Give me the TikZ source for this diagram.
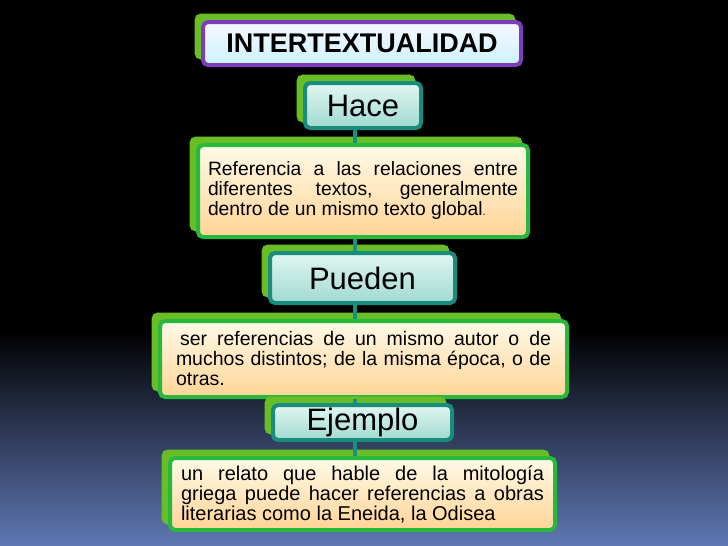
\documentclass[tikz,border=0pt]{standalone}
\usepackage{fontspec}
\setmainfont{Liberation Sans}
\usetikzlibrary{shadows}
\hbadness=10000
\definecolor{tabgreen}{RGB}{105,190,40}
\definecolor{boxgreen}{RGB}{40,185,60}
\definecolor{headteal}{RGB}{25,140,125}
\definecolor{headtop}{RGB}{225,246,242}
\definecolor{headbottom}{RGB}{160,218,208}
\definecolor{texttop}{RGB}{255,250,232}
\definecolor{textbottom}{RGB}{255,212,150}
\definecolor{titlepurple}{RGB}{125,60,185}
\definecolor{spine}{RGB}{25,145,130}
\definecolor{bgblue}{RGB}{95,120,180}
\tikzset{
  tabbed/.style={rounded corners=5pt,line width=4pt,
    general shadow={shadow xshift=-7pt,shadow yshift=7pt,fill=tabgreen,draw=tabgreen,line width=3pt}},
  titlebox/.style={tabbed,draw=titlepurple,top color=white!85!blue!20,bottom color=blue!25!cyan!20,
    minimum width=318,minimum height=43,inner sep=0pt,font=\fontsize{27}{27}\selectfont\bfseries},
  headbox/.style={tabbed,draw=headteal,top color=headtop,bottom color=headbottom,
    minimum width=#1,inner sep=0pt,font=\fontsize{31}{31}\selectfont},
  textbox/.style={tabbed,draw=boxgreen,top color=texttop,bottom color=textbottom,
    minimum width=#1,inner sep=0pt,align=justify},
  link/.style={spine,line width=3.5pt}
}
\begin{document}
\begin{tikzpicture}[x=1pt,y=-1pt]
  \fill[black] (0,0) rectangle (728,546);
  \shade[top color=black,bottom color=bgblue] (0,330) rectangle (728,546);
  \coordinate (axis) at (355,0);
  \node[titlebox] (titulo) at (362,43.5) {INTERTEXTUALIDAD};
  \node[headbox=116,minimum height=45] (hace) at (363,105.5) {Hace};
  \node[textbox=330,minimum height=92,text width=310,font=\fontsize{19.3}{20}\selectfont] (def) at (363,191)
    {Referencia a las relaciones entre\linebreak diferentes textos, generalmente\linebreak dentro de un mismo texto global{\fontsize{11}{11}\selectfont.}};
  \node[headbox=185,minimum height=50] (pueden) at (362.5,278) {Pueden};
  \node[textbox=407,minimum height=76,text width=375,font=\fontsize{19.5}{20}\selectfont] (refs) at (363.5,359)
    {\hspace*{4pt}ser referencias de un mismo autor o de\linebreak muchos distintos; de la misma época, o de\linebreak otras.\par\vspace*{12pt}};
  \node[headbox=179,minimum height=35] (ejemplo) at (362.5,422.5) {Ejemplo};
  \node[textbox=385,minimum height=72,text width=363,font=\fontsize{20}{20}\selectfont] (relato) at (362.5,494)
    {un relato que hable de la mitología\linebreak griega puede hacer referencias a obras\linebreak literarias como la Eneida, la Odisea};
  \draw[link] (hace.south -| axis) -- (def.north -| axis);
  \draw[link] (def.south -| axis) -- (pueden.north -| axis);
  \draw[link] (pueden.south -| axis) -- (refs.north -| axis);
  \draw[link] (refs.south -| axis) -- (ejemplo.north -| axis);
  \draw[link] (ejemplo.south -| axis) -- (relato.north -| axis);
\end{tikzpicture}
\end{document}
